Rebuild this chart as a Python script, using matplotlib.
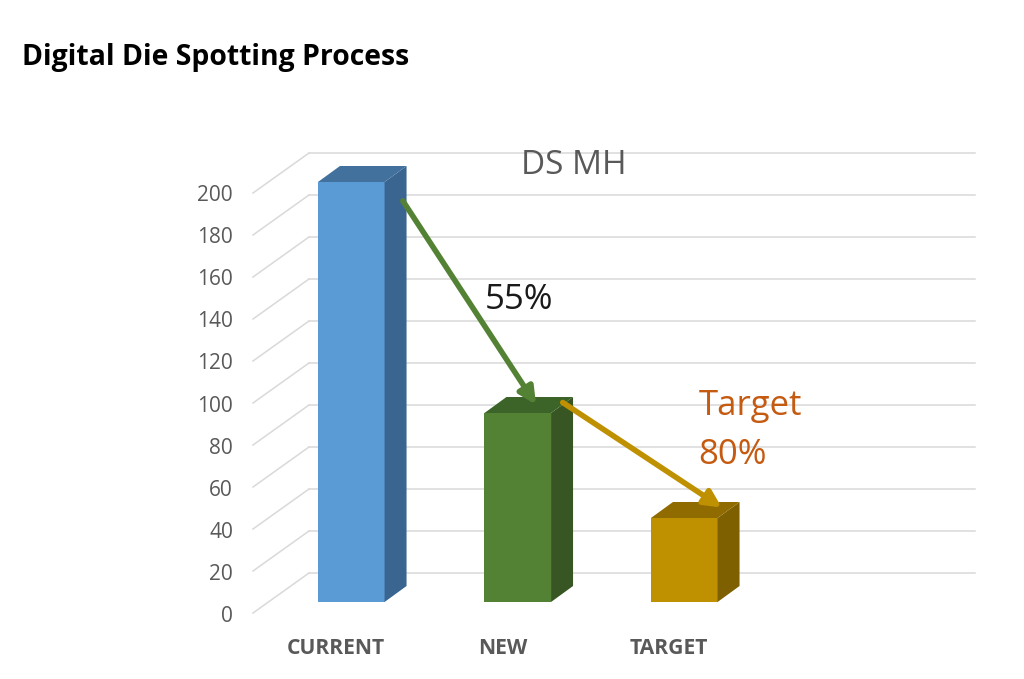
import matplotlib
matplotlib.use("Agg")
import matplotlib.pyplot as plt
from matplotlib.patches import Rectangle, Polygon

plt.rcParams['font.family'] = ['Open Sans', 'DejaVu Sans']

categories = ['CURRENT', 'NEW', 'TARGET']
values = [200, 90, 40]
tick_values = list(range(0, 201, 20))

front_colors = ['#5b9bd5', '#548235', '#bf9000']
side_colors = ['#3a6590', '#375623', '#7f6000']
top_colors = ['#41719c', '#3d6428', '#8f6b00']

W, H = 1024, 679
fig = plt.figure(figsize=(W / 100, H / 100), dpi=100)
fig.patch.set_facecolor('white')

# axes = plane of the bar front faces
ax_left, ax_width = 268, 666
ax_bottom, ax_height = 602, 420
ax = fig.add_axes([ax_left / W, (H - ax_bottom) / H, ax_width / W, ax_height / H])
ax.set_xlim(-0.5, 3.5)
ax.set_ylim(0, 200)
ax.axis('off')

# pixel -> data unit conversion for the fake 3D depth
px_x = 4 / ax_width
px_y = 200 / ax_height

def off(dx, dy):
    return dx * px_x, dy * px_y

back_dx, back_dy = off(41, 29)
front_dx, front_dy = off(-15, -11)
bar_dx, bar_dy = off(22, 16)
bw = 0.4

# back wall gridlines and side wall diagonals
for v in tick_values:
    ax.plot([-0.5 + back_dx, 3.5 + back_dx], [v + back_dy, v + back_dy],
            color='#d9d9d9', lw=1.1, clip_on=False, zorder=1)
    ax.plot([-0.5 + front_dx, -0.5 + back_dx], [v + front_dy, v + back_dy],
            color='#d9d9d9', lw=1.1, clip_on=False, zorder=1)
    ax.text(-0.5 + front_dx - 20 * px_x, v + front_dy - 3 * px_y, str(v), ha='right',
            va='center', fontsize=15, color='#595959')

# bars
for i, (cat, v) in enumerate(zip(categories, values)):
    x0, x1 = i - bw / 2, i + bw / 2
    ax.add_patch(Rectangle((x0, 0), bw, v, facecolor=front_colors[i],
                           edgecolor='none', zorder=3, clip_on=False))
    ax.add_patch(Polygon([(x1, 0), (x1 + bar_dx, bar_dy), (x1 + bar_dx, v + bar_dy), (x1, v)],
                         facecolor=side_colors[i], edgecolor='none', zorder=3, clip_on=False))
    ax.add_patch(Polygon([(x0, v), (x1, v), (x1 + bar_dx, v + bar_dy), (x0 + bar_dx, v + bar_dy)],
                         facecolor=top_colors[i], edgecolor='none', zorder=3, clip_on=False))
    ax.text(i + front_dx, front_dy - 35 * px_y, cat, ha='center', va='center',
            fontsize=15.2, fontweight='bold', color='#595959')

# arrows between bar tops
ax.annotate('', xy=(1 + 0.11, values[1] + 4), xytext=(0 + 0.31, values[0] - 9),
            arrowprops=dict(arrowstyle='-|>,head_length=1.0,head_width=0.5',
                            color='#548235', lw=4, shrinkA=0, shrinkB=0), zorder=5)
ax.annotate('', xy=(2 + 0.225, values[2] + 5), xytext=(1 + 0.27, values[1] + 5),
            arrowprops=dict(arrowstyle='-|>,head_length=1.0,head_width=0.5',
                            color='#bf9000', lw=4, shrinkA=0, shrinkB=0), zorder=5)

ax.text(1.336, 208, 'DS MH', ha='center', va='center', fontsize=24, color='#595959')
ax.text(1.006, 144, '55%', ha='center', va='center', fontsize=25, color='#1a1a1a')
ax.text(2.087, 93.3, 'Target', ha='left', va='center', fontsize=25, color='#c55a11')
ax.text(2.087, 70, '80%', ha='left', va='center', fontsize=25, color='#c55a11')

fig.text(22 / W, 1 - 57 / H, 'Digital Die Spotting Process', ha='left', va='center',
         fontsize=20.4, fontweight='bold', color='black')

fig.savefig('out.png', dpi=100, facecolor='white')
